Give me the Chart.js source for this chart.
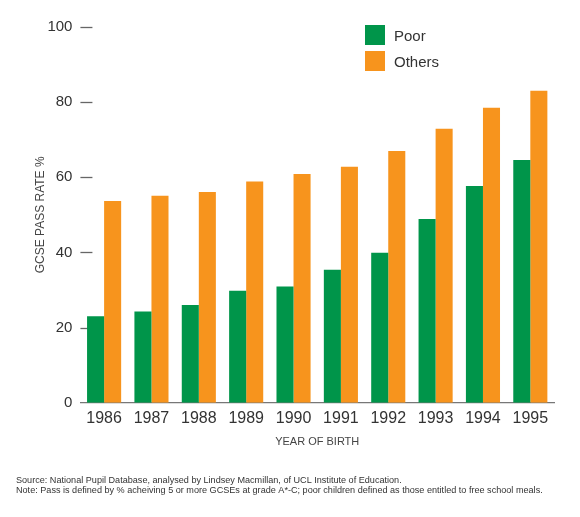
<!DOCTYPE html>
<html>
<head>
<meta charset="utf-8">
<script src="https://cdn.jsdelivr.net/npm/chart.js@4/dist/chart.umd.min.js"></script>
<style>
  body { margin: 0; background: #fff; }
  #wrap { position: relative; width: 580px; height: 517px; }
  #legend { position: absolute; left: 365px; top: 25px; font-family: "Liberation Sans", Arial, sans-serif; font-size: 15px; color: #333; }
  .item { display: flex; align-items: center; height: 20px; margin-bottom: 6px; }
  .box { width: 20px; height: 20px; margin-right: 9px; }
</style>
</head>
<body>
<div id="wrap">
  <canvas id="gcseChart" width="580" height="517"></canvas>
  <div id="legend"></div>
</div>
<script>
// values
const years = ["1986", "1987", "1988", "1989", "1990", "1991", "1992", "1993", "1994", "1995"];
const poor = [23, 24.3, 26, 29.8, 30.9, 35.4, 39.9, 48.9, 57.7, 64.6];
const others = [53.7, 55.1, 56.1, 58.9, 60.9, 62.8, 67, 72.9, 78.5, 83];
const yTicks = [0, 20, 40, 60, 80, 100];

const green = '#00954a';
const orange = '#f7941d';
const font = '"Liberation Sans", Arial, sans-serif';

// short dashes next to the y labels (the 0 line is the x axis border)
const tickDashes = {
    id: 'tickDashes',
    beforeDatasetsDraw(chart) {
        const ctx = chart.ctx;
        const y = chart.scales.y;
        const left = chart.chartArea.left;
        ctx.save();
        ctx.strokeStyle = '#666';
        ctx.lineWidth = 1.3;
        yTicks.forEach(v => {
            if (v === 0) return;
            const py = Math.round(y.getPixelForValue(v)) + 0.5;
            ctx.beginPath();
            ctx.moveTo(left, py);
            ctx.lineTo(left + 12, py);
            ctx.stroke();
        });
        ctx.restore();
    }
};

const ctx = document.getElementById('gcseChart').getContext('2d');
const chart = new Chart(ctx, {
    type: 'bar',
    data: {
        labels: years,
        datasets: [
            { label: 'Poor', data: poor, backgroundColor: green },
            { label: 'Others', data: others, backgroundColor: orange }
        ]
    },
    options: {
        responsive: false,
        animation: false,
        categoryPercentage: 0.72,
        barPercentage: 1,
        layout: { padding: { left: 16, right: 26, top: 27, bottom: 21 } },
        scales: {
            x: {
                grid: { display: false, drawTicks: false, tickLength: 0 },
                border: { display: true, color: '#777', width: 1.3 },
                ticks: { color: '#333', font: { family: font, size: 16 }, padding: 6, maxRotation: 0 },
                title: {
                    display: true,
                    text: 'YEAR OF BIRTH',
                    color: '#444',
                    font: { family: font, size: 11 },
                    padding: { top: 1, bottom: 27 }
                }
            },
            y: {
                min: 0,
                max: 100,
                afterBuildTicks: axis => { axis.ticks = yTicks.map(v => ({ value: v })); },
                grid: { display: false, drawTicks: false, tickLength: 0 },
                border: { display: false },
                ticks: { color: '#333', font: { family: font, size: 15 }, padding: 8 },
                title: {
                    display: true,
                    text: 'GCSE PASS RATE %',
                    color: '#444',
                    font: { family: font, size: 12 },
                    padding: { top: 17, bottom: -8 }
                }
            }
        },
        plugins: {
            legend: { display: false },
            tooltip: { enabled: false },
            subtitle: {
                display: true,
                position: 'bottom',
                align: 'start',
                text: [
                    'Source: National Pupil Database, analysed by Lindsey Macmillan, of UCL Institute of Education.',
                    'Note: Pass is defined by % acheiving 5 or more GCSEs at grade A*-C; poor children defined as those entitled to free school meals.'
                ],
                color: '#333',
                font: { family: font, size: 9.1, lineHeight: 1.15 },
                padding: 0
            }
        }
    },
    plugins: [tickDashes]
});

// legend built from the datasets
const legend = document.getElementById('legend');
chart.data.datasets.forEach(ds => {
    const item = document.createElement('div');
    item.className = 'item';
    item.innerHTML = `<span class="box" style="background:${ds.backgroundColor}"></span>${ds.label}`;
    legend.appendChild(item);
});
</script>
</body>
</html>
